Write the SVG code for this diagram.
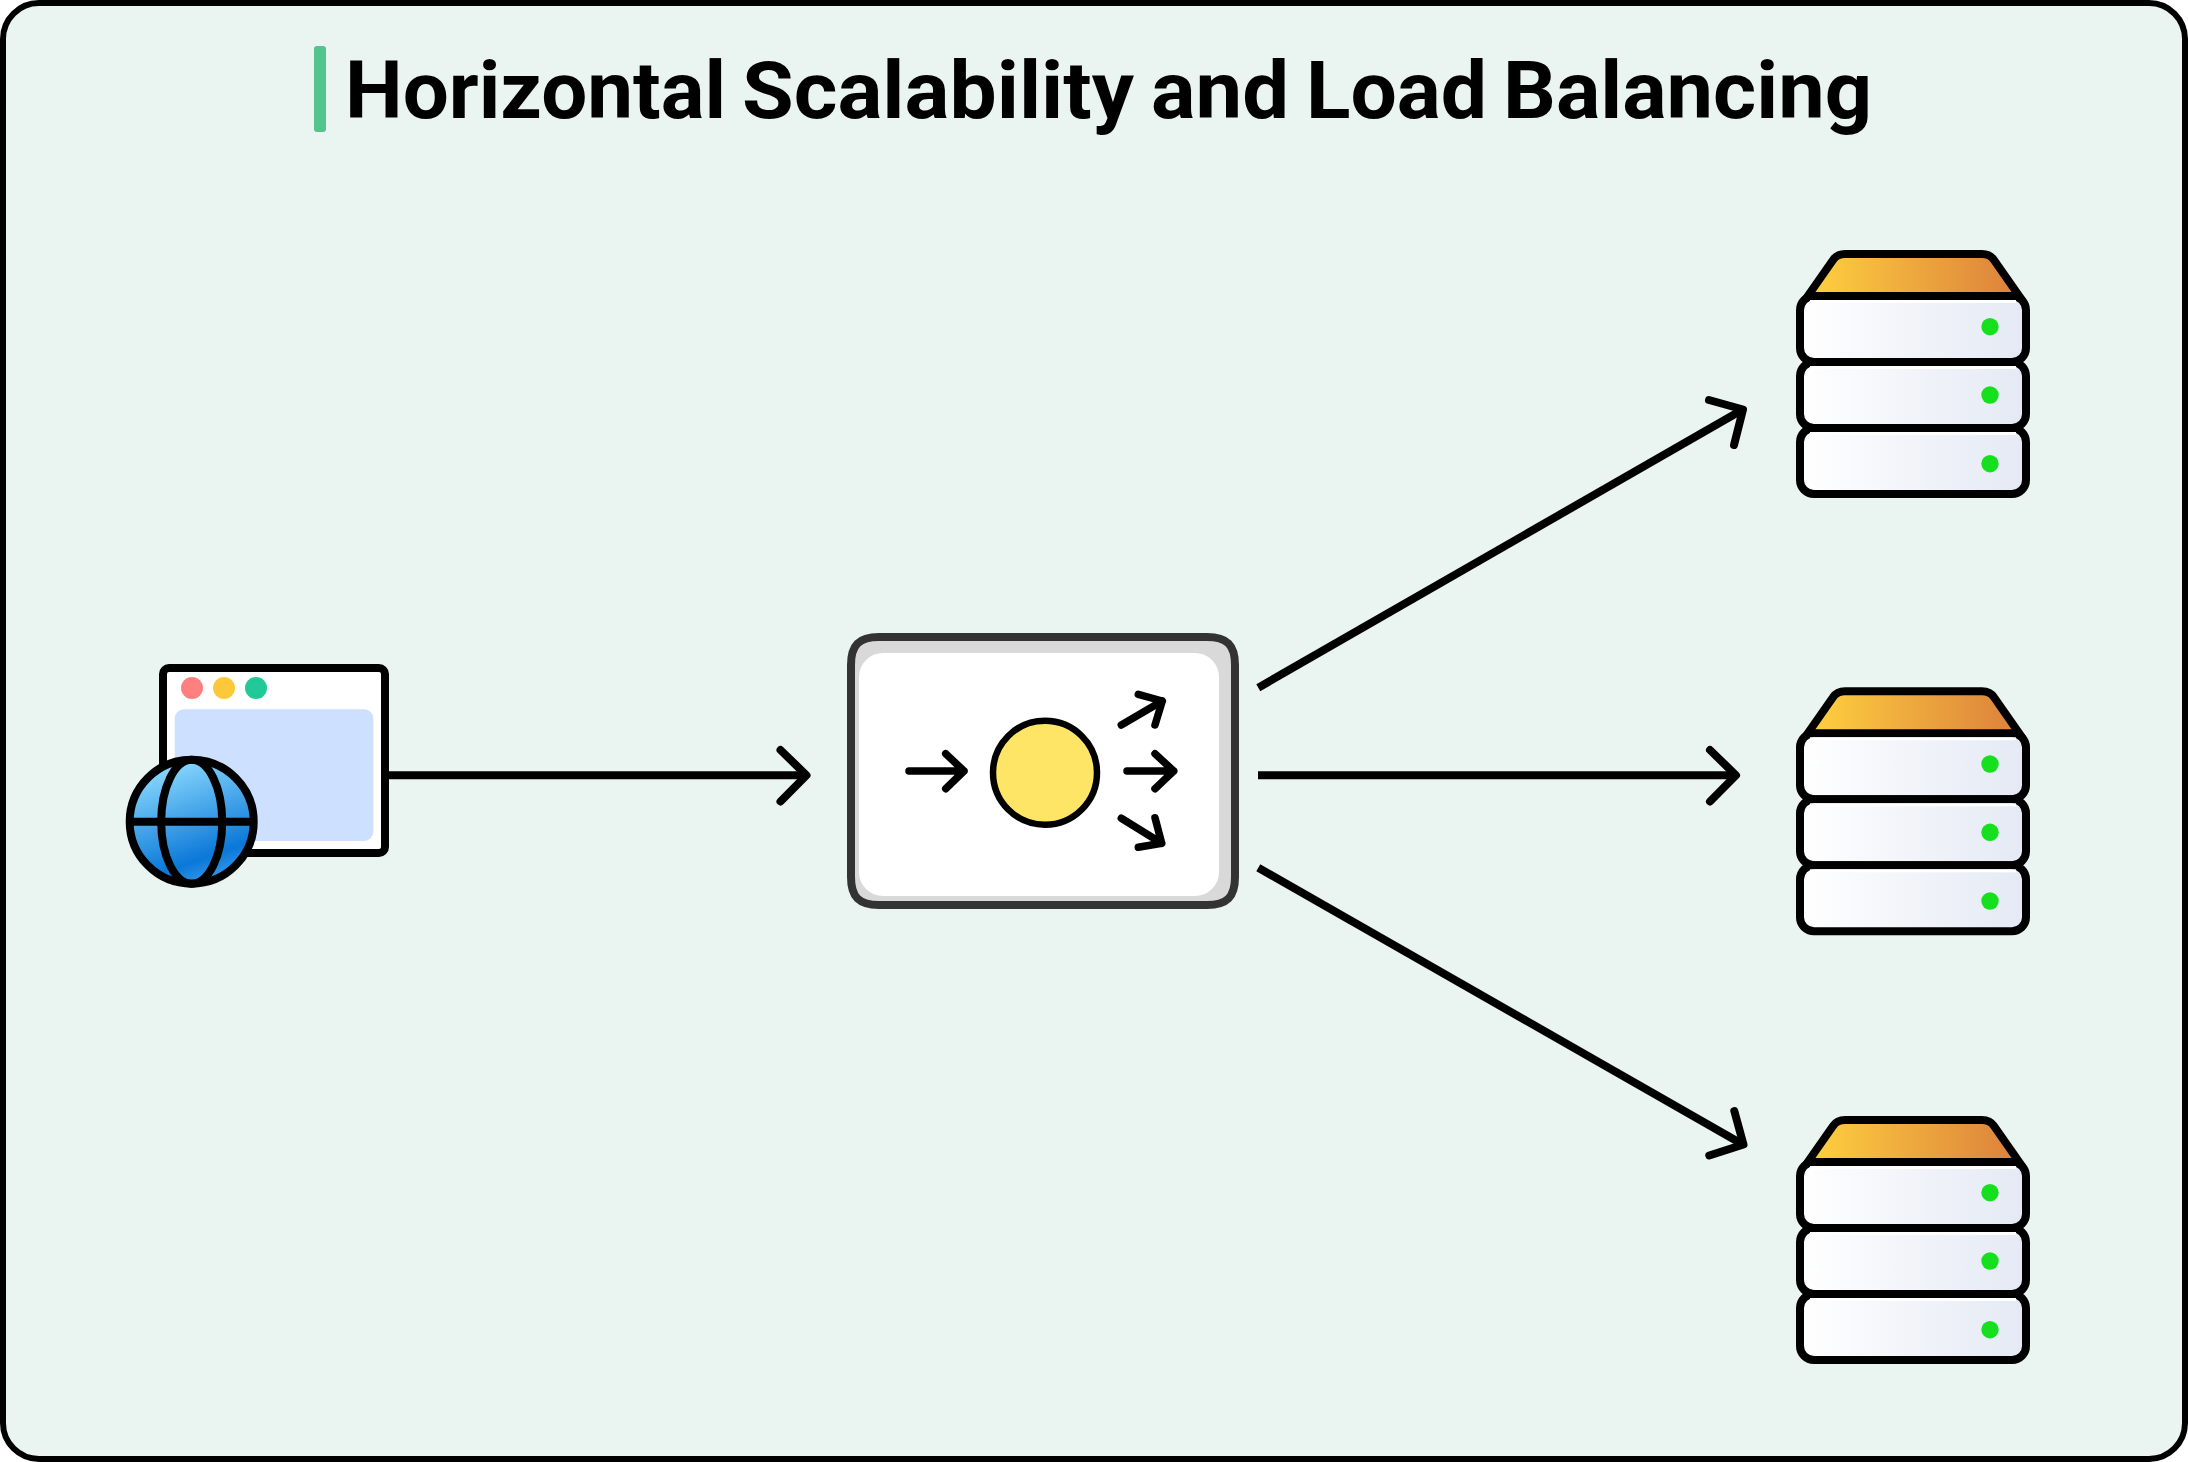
<svg xmlns="http://www.w3.org/2000/svg" width="2188" height="1462" viewBox="0 0 2188 1462">
<style>
.edge{fill:none;stroke:#000;stroke-width:8}
.head{fill:none;stroke:#000;stroke-width:8;stroke-linecap:round;stroke-linejoin:round}
.sm{fill:none;stroke:#000;stroke-width:7.5;stroke-linecap:round;stroke-linejoin:round}
.blade{fill:url(#blade);stroke:#000;stroke-width:8}
.shine{fill:#fff}
.led{fill:#16E01E}
.title{font-family:"Roboto","Liberation Sans",sans-serif;font-weight:700;font-size:79px;fill:#000}
</style>
<defs>
<linearGradient id="blade" x1="0" y1="0" x2="1" y2="0"><stop offset="0" stop-color="#fff"/><stop offset="1" stop-color="#E4E9F4"/></linearGradient>
<linearGradient id="roof" x1="0" y1="0" x2="1" y2="0"><stop offset="0" stop-color="#FFD23F"/><stop offset="1" stop-color="#DC7F3C"/></linearGradient>
<linearGradient id="globe" x1="0.3" y1="0" x2="0.65" y2="1"><stop offset="0" stop-color="#90DDFF"/><stop offset="0.8" stop-color="#0A78D8"/><stop offset="1" stop-color="#3A9BEE"/></linearGradient>
<g id="server">
<path d="M1805 300L1833 260Q1837 254 1845 254H1982Q1990 254 1994 260L2022 300Z" fill="url(#roof)" stroke="#000" stroke-width="8" stroke-linejoin="round"/>
<rect class="blade" x="1800" y="296" width="226" height="66" rx="14"/>
<rect class="blade" x="1800" y="362" width="226" height="66" rx="14"/>
<rect class="blade" x="1800" y="428" width="226" height="66" rx="14"/>
<rect class="shine" x="1810" y="300" width="206" height="3"/>
<rect class="shine" x="1810" y="366" width="206" height="3"/>
<rect class="shine" x="1810" y="432" width="206" height="3"/>
<circle class="led" cx="1990" cy="326.700" r="8.700"/>
<circle class="led" cx="1990" cy="395" r="8.700"/>
<circle class="led" cx="1990" cy="463.700" r="8.700"/>
</g>
</defs>
<rect id="frame" x="3" y="3" width="2182" height="1456" rx="36" fill="#EAF4F0" stroke="#000" stroke-width="6"/>
<g id="title">
<rect x="314" y="46" width="12" height="86" rx="3" fill="#52C48C"/>
<text class="title" y="118"><tspan x="345" textLength="381" lengthAdjust="spacingAndGlyphs">Horizontal</tspan> <tspan x="742" textLength="392" lengthAdjust="spacingAndGlyphs">Scalability</tspan> <tspan x="1151" textLength="138" lengthAdjust="spacingAndGlyphs">and</tspan> <tspan x="1306" textLength="181" lengthAdjust="spacingAndGlyphs">Load</tspan> <tspan x="1503" textLength="369" lengthAdjust="spacingAndGlyphs">Balancing</tspan></text>
</g>
<g id="connectors">
<path class="edge" d="M385 775.300H806"/>
<path class="head" d="M780.500 750L806.500 775.300L780.500 801.500"/>
<path class="edge" d="M1258 775.300H1735"/>
<path class="head" d="M1710 750L1736 775.300L1710 801.500"/>
<path class="edge" d="M1258.300 687.700L1742 410"/>
<path class="head" d="M1709 400L1743 409.500L1734 445"/>
<path class="edge" d="M1258.300 867.700L1742 1144"/>
<path class="head" d="M1734.300 1111L1743.500 1144.500L1709.300 1155.500"/>
</g>
<g id="client">
<rect x="163" y="668" width="222" height="185" rx="6" fill="#fff" stroke="#000" stroke-width="8"/>
<rect x="174.700" y="709.300" width="198.600" height="131.700" rx="9" fill="#CDE0FF"/>
<circle cx="192" cy="688" r="11" fill="#FF7F7F"/>
<circle cx="224" cy="688" r="11" fill="#FFC83A"/>
<circle cx="256" cy="688" r="11" fill="#20C997"/>
<circle cx="191.700" cy="821.700" r="62" fill="url(#globe)" stroke="#000" stroke-width="8"/>
<ellipse cx="191.700" cy="821.700" rx="30.500" ry="62" fill="none" stroke="#000" stroke-width="8"/>
<path d="M130 821.700H253" stroke="#000" stroke-width="8"/>
</g>
<g id="load-balancer">
<path d="M879 637H1207C1227 637 1235 645 1235 665V877C1235 897 1227 905 1207 905H879C859 905 851 897 851 877V665C851 645 859 637 879 637Z" fill="#D9D9D9" stroke="#333" stroke-width="8"/>
<rect x="859" y="653" width="360" height="243" rx="24" fill="#fff"/>
<circle cx="1045" cy="772.700" r="52" fill="#FFE566" stroke="#000" stroke-width="6.500"/>
<path class="sm" d="M909 771H964M945.700 753.700L964 771L945.700 788.700"/>
<path class="sm" d="M1127 771H1173.700M1155 753.700L1173.700 771L1155 788.700"/>
<path class="sm" d="M1121.300 725L1162.300 701M1138.300 694.300L1162.300 701L1155 725"/>
<path class="sm" d="M1121.300 818.300L1161.700 843.300M1155 817.700L1161.700 843.300L1138.300 847.300"/>
</g>
<use id="server-1" href="#server"/>
<use id="server-2" href="#server" y="437.300"/>
<use id="server-3" href="#server" y="866"/>
</svg>
